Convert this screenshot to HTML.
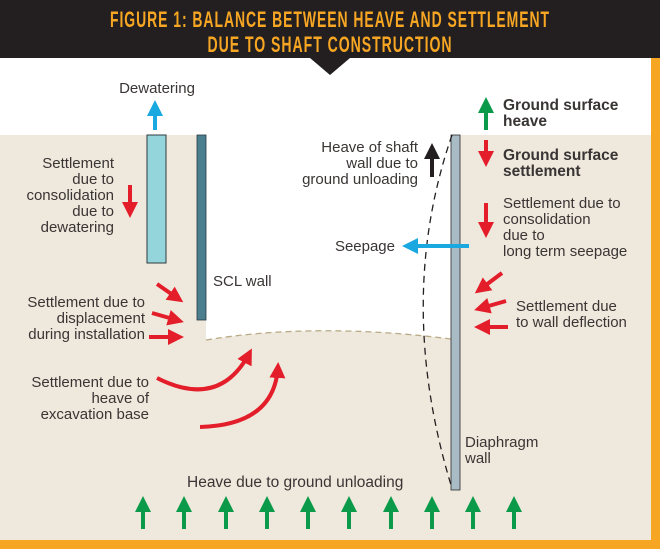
<!DOCTYPE html>
<html><head><meta charset="utf-8"><style>
html,body{margin:0;padding:0;background:#fff}
svg{display:block}
text{font-family:"Liberation Sans",sans-serif;fill:#3a3535}
</style></head><body>
<svg width="660" height="549" viewBox="0 0 660 549" xmlns="http://www.w3.org/2000/svg">
<defs>
<marker id="r" markerUnits="userSpaceOnUse" markerWidth="18" markerHeight="18" refX="12" refY="8" orient="auto"><path d="M0,0 L16,8 L0,16 Z" fill="#e31e2a"/></marker>
<marker id="g" markerUnits="userSpaceOnUse" markerWidth="18" markerHeight="18" refX="12" refY="8" orient="auto"><path d="M0,0 L16,8 L0,16 Z" fill="#0a9a4a"/></marker>
<marker id="b" markerUnits="userSpaceOnUse" markerWidth="18" markerHeight="18" refX="12" refY="8" orient="auto"><path d="M0,0 L16,8 L0,16 Z" fill="#1aa8e0"/></marker>
<marker id="k" markerUnits="userSpaceOnUse" markerWidth="18" markerHeight="18" refX="12" refY="8" orient="auto"><path d="M0,0 L16,8 L0,16 Z" fill="#231f20"/></marker>
</defs>
<rect width="660" height="549" fill="#fff"/>
<rect x="0" y="135" width="651" height="405" fill="#efe8dc"/>
<path d="M206,135 L451,135 L451,339 Q316,322 206,340 Z" fill="#fff"/>
<path d="M206,340 Q316,322 451,339" fill="none" stroke="#b9ab86" stroke-width="1.3" stroke-dasharray="6,4"/>
<rect x="651" y="58" width="9" height="491" fill="#f6a623"/>
<rect x="0" y="540" width="660" height="9" fill="#f6a623"/>
<rect x="0" y="0" width="660" height="58" fill="#231f20"/>
<path d="M310,58 L350,58 L330,75 Z" fill="#231f20"/>
<text x="330" y="27" text-anchor="middle" font-size="22" font-weight="bold" letter-spacing="1.5" style="fill:#f6a623;font-family:'Liberation Sans Narrow','Liberation Sans',sans-serif" textLength="440" lengthAdjust="spacingAndGlyphs">FIGURE 1: BALANCE BETWEEN HEAVE AND SETTLEMENT</text>
<text x="330" y="52" text-anchor="middle" font-size="22" font-weight="bold" letter-spacing="1.5" style="fill:#f6a623;font-family:'Liberation Sans Narrow','Liberation Sans',sans-serif" textLength="245" lengthAdjust="spacingAndGlyphs">DUE TO SHAFT CONSTRUCTION</text>
<rect x="147" y="135" width="19" height="128" fill="#94d4db" stroke="#2f3a3d" stroke-width="1"/>
<rect x="197" y="135" width="9" height="185" fill="#4b7f8f" stroke="#2a3a40" stroke-width="0.8"/>
<rect x="451" y="135" width="9" height="355" fill="#a9bcc5" stroke="#2a2a2a" stroke-width="0.8"/>
<path d="M452,135 Q395,300 451,485" fill="none" stroke="#231f20" stroke-width="1.3" stroke-dasharray="7,5"/>
<text x="157" y="93" text-anchor="middle" font-size="15">Dewatering</text>
<line x1="155" y1="130" x2="155" y2="104" stroke="#1aa8e0" stroke-width="4" marker-end="url(#b)"/>
<line x1="486" y1="130" x2="486" y2="101" stroke="#0a9a4a" stroke-width="4" marker-end="url(#g)"/>
<text x="503" y="110" font-size="15.5" font-weight="bold">Ground surface</text>
<text x="503" y="126" font-size="15.5" font-weight="bold">heave</text>
<line x1="486" y1="140" x2="486" y2="163" stroke="#e31e2a" stroke-width="4" marker-end="url(#r)"/>
<text x="503" y="160" font-size="15.5" font-weight="bold">Ground surface</text>
<text x="503" y="176" font-size="15.5" font-weight="bold">settlement</text>
<line x1="486" y1="203" x2="486" y2="234" stroke="#e31e2a" stroke-width="4" marker-end="url(#r)"/>
<g font-size="15"><text x="503" y="208">Settlement due to</text><text x="503" y="224">consolidation</text><text x="503" y="240">due to</text><text x="503" y="256">long term seepage</text></g>
<line x1="469" y1="246" x2="406" y2="246" stroke="#1aa8e0" stroke-width="4" marker-end="url(#b)"/>
<text x="395" y="251" text-anchor="end" font-size="15">Seepage</text>
<line x1="432" y1="177" x2="432" y2="147" stroke="#231f20" stroke-width="4" marker-end="url(#k)"/>
<g font-size="15" text-anchor="end"><text x="418" y="152">Heave of shaft</text><text x="418" y="168">wall due to</text><text x="418" y="184">ground unloading</text></g>
<g font-size="15" text-anchor="end"><text x="114" y="168">Settlement</text><text x="114" y="184">due to</text><text x="114" y="200">consolidation</text><text x="114" y="216">due to</text><text x="114" y="232">dewatering</text></g>
<line x1="130" y1="185" x2="130" y2="214" stroke="#e31e2a" stroke-width="4" marker-end="url(#r)"/>
<text x="213" y="286" font-size="15">SCL wall</text>
<g font-size="15" text-anchor="end"><text x="145" y="307">Settlement due to</text><text x="145" y="323">displacement</text><text x="145" y="339">during installation</text></g>
<line x1="157" y1="284" x2="180" y2="300" stroke="#e31e2a" stroke-width="4" marker-end="url(#r)"/>
<line x1="152" y1="313" x2="180" y2="321" stroke="#e31e2a" stroke-width="4" marker-end="url(#r)"/>
<line x1="149" y1="337" x2="180" y2="337" stroke="#e31e2a" stroke-width="4" marker-end="url(#r)"/>
<line x1="502" y1="273" x2="478" y2="291" stroke="#e31e2a" stroke-width="4" marker-end="url(#r)"/>
<line x1="506" y1="301" x2="478" y2="309" stroke="#e31e2a" stroke-width="4" marker-end="url(#r)"/>
<line x1="508" y1="327" x2="478" y2="327" stroke="#e31e2a" stroke-width="4" marker-end="url(#r)"/>
<g font-size="15"><text x="516" y="311">Settlement due</text><text x="516" y="327">to wall deflection</text></g>
<g font-size="15" text-anchor="end"><text x="149" y="387">Settlement due to</text><text x="149" y="403">heave of</text><text x="149" y="419">excavation base</text></g>
<path d="M157,378 Q220,410 250,352" fill="none" stroke="#e31e2a" stroke-width="4" marker-end="url(#r)"/>
<path d="M200,427 Q275,425 278,366" fill="none" stroke="#e31e2a" stroke-width="4" marker-end="url(#r)"/>
<g font-size="15"><text x="465" y="447">Diaphragm</text><text x="465" y="463">wall</text></g>
<text x="187" y="487" font-size="15.5">Heave due to ground unloading</text>
<g stroke="#0a9a4a" stroke-width="4" marker-end="url(#g)">
<line x1="143" y1="529" x2="143" y2="500"/><line x1="184" y1="529" x2="184" y2="500"/><line x1="226" y1="529" x2="226" y2="500"/><line x1="267" y1="529" x2="267" y2="500"/><line x1="308" y1="529" x2="308" y2="500"/><line x1="349" y1="529" x2="349" y2="500"/><line x1="391" y1="529" x2="391" y2="500"/><line x1="432" y1="529" x2="432" y2="500"/><line x1="473" y1="529" x2="473" y2="500"/><line x1="514" y1="529" x2="514" y2="500"/>
</g>
</svg>
</body></html>
